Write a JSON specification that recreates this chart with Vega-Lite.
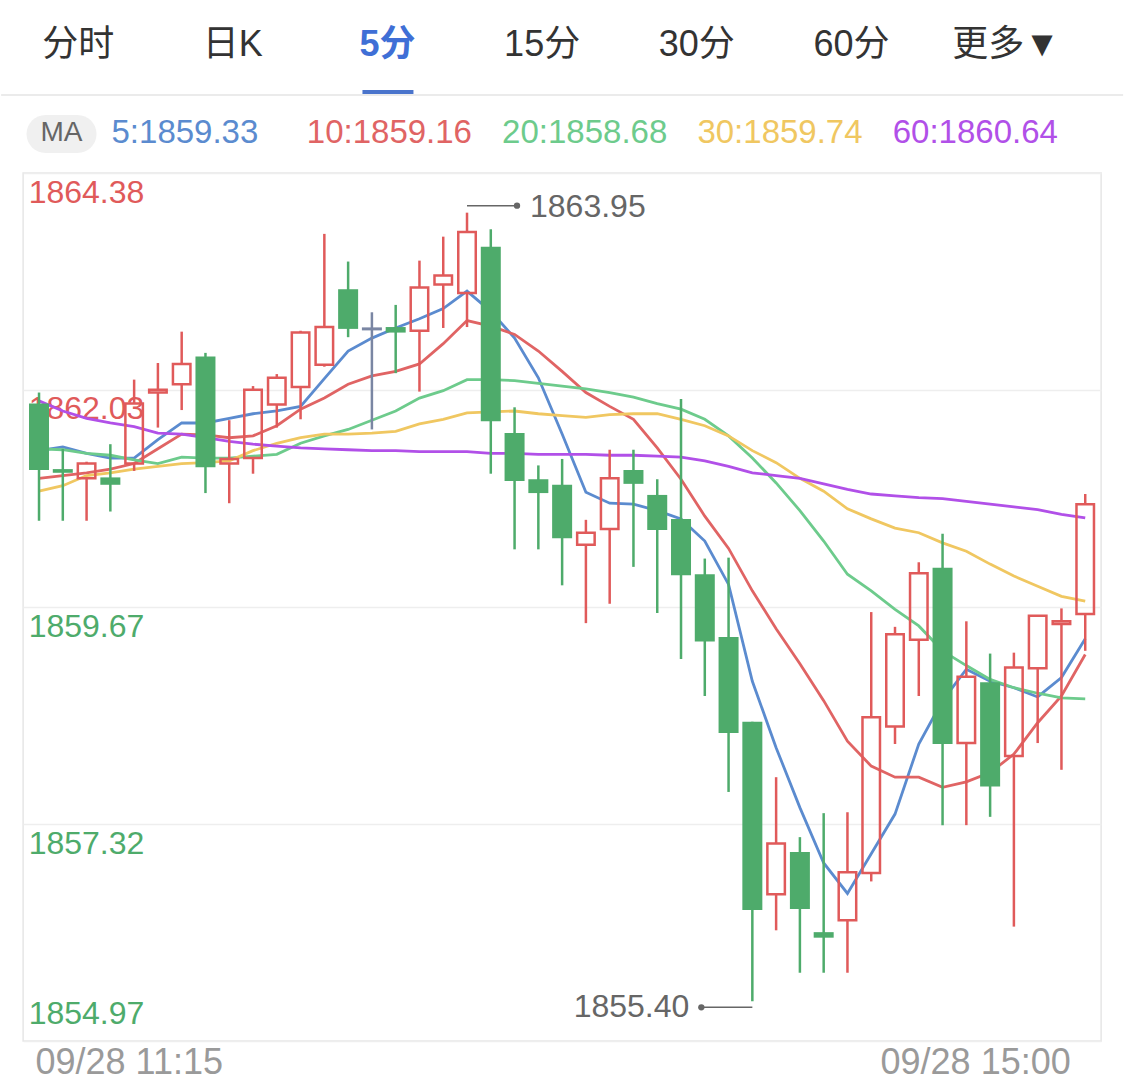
{
  "$schema": "https://vega.github.io/schema/vega-lite/v6.json",
  "background": "white",
  "padding": 0,
  "spacing": 0,
  "center": true,
  "config": {"font": "Liberation Sans", "view": {"stroke": null}},
  "datasets": {
    "k": [
      {"i":0,"open":1861.88,"high":1862.00,"low":1860.61,"close":1861.16,"ma5":1861.37,"ma10":1861.07,"ma20":1861.39,"ma30":1860.93,"ma60":1861.91},
      {"i":1,"open":1861.17,"high":1861.39,"low":1860.61,"close":1861.13,"ma5":1861.41,"ma10":1861.10,"ma20":1861.38,"ma30":1860.99,"ma60":1861.80},
      {"i":2,"open":1861.07,"high":1861.25,"low":1860.61,"close":1861.23,"ma5":1861.34,"ma10":1861.13,"ma20":1861.34,"ma30":1861.10,"ma60":1861.72},
      {"i":3,"open":1861.08,"high":1861.44,"low":1860.71,"close":1861.00,"ma5":1861.29,"ma10":1861.17,"ma20":1861.32,"ma30":1861.13,"ma60":1861.67},
      {"i":4,"open":1861.23,"high":1862.14,"low":1861.15,"close":1861.88,"ma5":1861.29,"ma10":1861.23,"ma20":1861.27,"ma30":1861.17,"ma60":1861.63},
      {"i":5,"open":1862.00,"high":1862.32,"low":1861.62,"close":1862.03,"ma5":1861.49,"ma10":1861.39,"ma20":1861.23,"ma30":1861.20,"ma60":1861.56},
      {"i":6,"open":1862.09,"high":1862.66,"low":1861.81,"close":1862.31,"ma5":1861.67,"ma10":1861.55,"ma20":1861.30,"ma30":1861.23,"ma60":1861.55},
      {"i":7,"open":1862.39,"high":1862.43,"low":1860.91,"close":1861.19,"ma5":1861.67,"ma10":1861.54,"ma20":1861.29,"ma30":1861.24,"ma60":1861.51},
      {"i":8,"open":1861.23,"high":1861.70,"low":1860.80,"close":1861.28,"ma5":1861.72,"ma10":1861.51,"ma20":1861.29,"ma30":1861.26,"ma60":1861.47},
      {"i":9,"open":1861.29,"high":1862.07,"low":1861.12,"close":1862.03,"ma5":1861.77,"ma10":1861.53,"ma20":1861.31,"ma30":1861.37,"ma60":1861.44},
      {"i":10,"open":1861.87,"high":1862.20,"low":1861.62,"close":1862.16,"ma5":1861.80,"ma10":1861.64,"ma20":1861.33,"ma30":1861.45,"ma60":1861.42},
      {"i":11,"open":1862.06,"high":1862.67,"low":1861.71,"close":1862.65,"ma5":1861.85,"ma10":1861.82,"ma20":1861.45,"ma30":1861.51,"ma60":1861.40},
      {"i":12,"open":1862.30,"high":1863.72,"low":1862.28,"close":1862.71,"ma5":1862.15,"ma10":1861.94,"ma20":1861.53,"ma30":1861.55,"ma60":1861.39},
      {"i":13,"open":1863.12,"high":1863.42,"low":1862.60,"close":1862.69,"ma5":1862.45,"ma10":1862.09,"ma20":1861.60,"ma30":1861.55,"ma60":1861.38},
      {"i":14,"open":1862.69,"high":1862.87,"low":1861.60,"close":1862.69,"ma5":1862.59,"ma10":1862.18,"ma20":1861.70,"ma30":1861.56,"ma60":1861.37},
      {"i":15,"open":1862.71,"high":1862.95,"low":1862.21,"close":1862.65,"ma5":1862.70,"ma10":1862.23,"ma20":1861.80,"ma30":1861.58,"ma60":1861.37},
      {"i":16,"open":1862.67,"high":1863.43,"low":1862.01,"close":1863.14,"ma5":1862.80,"ma10":1862.31,"ma20":1861.94,"ma30":1861.66,"ma60":1861.36},
      {"i":17,"open":1863.17,"high":1863.69,"low":1862.70,"close":1863.27,"ma5":1862.91,"ma10":1862.53,"ma20":1862.02,"ma30":1861.71,"ma60":1861.36},
      {"i":18,"open":1863.08,"high":1863.95,"low":1862.71,"close":1863.74,"ma5":1863.10,"ma10":1862.78,"ma20":1862.14,"ma30":1861.78,"ma60":1861.36},
      {"i":19,"open":1863.58,"high":1863.77,"low":1861.12,"close":1861.69,"ma5":1862.88,"ma10":1862.72,"ma20":1862.14,"ma30":1861.79,"ma60":1861.34},
      {"i":20,"open":1861.56,"high":1861.84,"low":1860.30,"close":1861.04,"ma5":1862.59,"ma10":1862.63,"ma20":1862.13,"ma30":1861.80,"ma60":1861.34},
      {"i":21,"open":1861.06,"high":1861.21,"low":1860.30,"close":1860.91,"ma5":1862.16,"ma10":1862.45,"ma20":1862.10,"ma30":1861.77,"ma60":1861.33},
      {"i":22,"open":1861.00,"high":1861.28,"low":1859.91,"close":1860.42,"ma5":1861.55,"ma10":1862.23,"ma20":1862.07,"ma30":1861.75,"ma60":1861.33},
      {"i":23,"open":1860.35,"high":1860.62,"low":1859.50,"close":1860.48,"ma5":1860.92,"ma10":1862.00,"ma20":1862.04,"ma30":1861.73,"ma60":1861.33},
      {"i":24,"open":1860.52,"high":1861.38,"low":1859.71,"close":1861.07,"ma5":1860.80,"ma10":1861.85,"ma20":1862.00,"ma30":1861.76,"ma60":1861.32},
      {"i":25,"open":1861.16,"high":1861.38,"low":1860.11,"close":1861.01,"ma5":1860.79,"ma10":1861.71,"ma20":1861.95,"ma30":1861.77,"ma60":1861.32},
      {"i":26,"open":1860.89,"high":1861.06,"low":1859.61,"close":1860.51,"ma5":1860.72,"ma10":1861.40,"ma20":1861.88,"ma30":1861.77,"ma60":1861.31},
      {"i":27,"open":1860.63,"high":1861.93,"low":1859.11,"close":1860.02,"ma5":1860.63,"ma10":1861.06,"ma20":1861.82,"ma30":1861.71,"ma60":1861.30},
      {"i":28,"open":1860.03,"high":1860.20,"low":1858.71,"close":1859.30,"ma5":1860.39,"ma10":1860.66,"ma20":1861.71,"ma30":1861.64,"ma60":1861.26},
      {"i":29,"open":1859.35,"high":1860.21,"low":1857.67,"close":1858.31,"ma5":1859.92,"ma10":1860.31,"ma20":1861.53,"ma30":1861.53,"ma60":1861.20},
      {"i":30,"open":1858.43,"high":1858.43,"low":1855.40,"close":1856.39,"ma5":1858.87,"ma10":1859.85,"ma20":1861.29,"ma30":1861.37,"ma60":1861.13},
      {"i":31,"open":1856.56,"high":1857.83,"low":1856.17,"close":1857.11,"ma5":1858.15,"ma10":1859.44,"ma20":1861.02,"ma30":1861.24,"ma60":1861.10},
      {"i":32,"open":1857.02,"high":1857.18,"low":1855.71,"close":1856.40,"ma5":1857.50,"ma10":1859.06,"ma20":1860.72,"ma30":1861.07,"ma60":1861.07},
      {"i":33,"open":1856.15,"high":1857.44,"low":1855.71,"close":1856.09,"ma5":1856.90,"ma10":1858.66,"ma20":1860.39,"ma30":1860.93,"ma60":1861.01},
      {"i":34,"open":1856.28,"high":1857.45,"low":1855.71,"close":1856.80,"ma5":1856.57,"ma10":1858.22,"ma20":1860.03,"ma30":1860.74,"ma60":1860.95},
      {"i":35,"open":1856.79,"high":1859.62,"low":1856.70,"close":1858.48,"ma5":1857.00,"ma10":1857.95,"ma20":1859.85,"ma30":1860.63,"ma60":1860.90},
      {"i":36,"open":1858.38,"high":1859.46,"low":1858.19,"close":1859.38,"ma5":1857.43,"ma10":1857.83,"ma20":1859.65,"ma30":1860.53,"ma60":1860.88},
      {"i":37,"open":1859.32,"high":1860.16,"low":1858.71,"close":1860.04,"ma5":1858.19,"ma10":1857.83,"ma20":1859.47,"ma30":1860.48,"ma60":1860.86},
      {"i":38,"open":1860.10,"high":1860.47,"low":1857.31,"close":1858.19,"ma5":1858.66,"ma10":1857.72,"ma20":1859.20,"ma30":1860.37,"ma60":1860.85},
      {"i":39,"open":1858.20,"high":1859.52,"low":1857.31,"close":1858.92,"ma5":1859.00,"ma10":1857.78,"ma20":1859.04,"ma30":1860.28,"ma60":1860.82},
      {"i":40,"open":1858.86,"high":1859.17,"low":1857.40,"close":1857.73,"ma5":1858.87,"ma10":1857.88,"ma20":1858.89,"ma30":1860.14,"ma60":1860.79},
      {"i":41,"open":1858.06,"high":1859.18,"low":1856.21,"close":1859.02,"ma5":1858.80,"ma10":1858.08,"ma20":1858.80,"ma30":1860.01,"ma60":1860.76},
      {"i":42,"open":1859.01,"high":1859.58,"low":1858.20,"close":1859.58,"ma5":1858.70,"ma10":1858.42,"ma20":1858.74,"ma30":1859.90,"ma60":1860.73},
      {"i":43,"open":1859.49,"high":1859.66,"low":1857.91,"close":1859.52,"ma5":1858.91,"ma10":1858.71,"ma20":1858.69,"ma30":1859.79,"ma60":1860.68},
      {"i":44,"open":1859.60,"high":1860.90,"low":1859.20,"close":1860.79,"ma5":1859.33,"ma10":1859.16,"ma20":1858.68,"ma30":1859.74,"ma60":1860.64}
    ],
    "ext": [
      {"i":18,"price":1863.95,"side":"right"},
      {"i":30,"price":1855.40,"side":"left"}
    ],
    "tabs": [
      {"tab":"分时"},{"tab":"日K"},{"tab":"5分"},{"tab":"15分"},{"tab":"30分"},{"tab":"60分"},{"tab":"更多▼"}
    ],
    "mas": [
      {"ma":"ma5","label":"5:1859.33"},
      {"ma":"ma10","label":"10:1859.16"},
      {"ma":"ma20","label":"20:1858.68"},
      {"ma":"ma30","label":"30:1859.74"},
      {"ma":"ma60","label":"60:1860.64"}
    ]
  },
  "vconcat": [
    {
      "width": 1122,
      "height": 96,
      "data": {"name": "tabs"},
      "layer": [
        {
          "transform": [{"filter": "datum.tab !== '5分'"}],
          "mark": {"type": "text", "fontSize": 36, "baseline": "middle", "font": "Liberation Sans, Noto Sans CJK SC", "color": "#333333"},
          "encoding": {
            "x": {"field": "tab", "type": "nominal", "scale": {"type": "point", "domain": ["分时","日K","5分","15分","30分","60分","更多▼"], "padding": 0.6272, "align": 0.3969}, "axis": null},
            "y": {"value": 45},
            "text": {"field": "tab"}
          }
        },
        {
          "transform": [{"filter": "datum.tab === '5分'"}],
          "mark": {"type": "text", "fontSize": 36, "fontWeight": "bold", "baseline": "middle", "font": "Liberation Sans, Noto Sans CJK SC", "color": "#3f6fd6"},
          "encoding": {
            "x": {"field": "tab", "type": "nominal", "axis": null},
            "y": {"value": 45},
            "text": {"field": "tab"}
          }
        },
        {
          "transform": [{"filter": "datum.tab === '5分'"}],
          "mark": {"type": "rule", "strokeWidth": 4, "color": "#4a74cc", "xOffset": -25, "x2Offset": 26},
          "encoding": {
            "x": {"field": "tab", "type": "nominal", "axis": null},
            "x2": {"field": "tab"},
            "y": {"value": 92}
          }
        },
        {
          "data": {"values": [{}]},
          "mark": {"type": "rule", "color": "#e4e4e4", "strokeWidth": 1.5},
          "encoding": {"y": {"value": 95}}
        }
      ]
    },
    {
      "width": 1122,
      "height": 76,
      "layer": [
        {
          "data": {"values": [{"key": "MA"}]},
          "mark": {"type": "point", "filled": true, "shape": "M-0.457,-0.543L0.457,-0.543A0.543,0.543,0,0,1,0.457,0.543L-0.457,0.543A0.543,0.543,0,0,1,-0.457,-0.543Z", "size": 4900, "color": "#f0f0f0", "opacity": 1},
          "encoding": {
            "x": {"field": "key", "type": "nominal", "scale": {"type": "point", "align": 0.0535}, "axis": null},
            "y": {"value": 38}
          }
        },
        {
          "data": {"values": [{"key": "MA"}]},
          "mark": {"type": "text", "fontSize": 28, "color": "#666666", "baseline": "middle", "align": "center"},
          "encoding": {
            "x": {"field": "key", "type": "nominal", "scale": {"type": "point", "align": 0.0535}, "axis": null},
            "y": {"value": 37},
            "text": {"field": "key"}
          }
        },
        {
          "data": {"name": "mas"},
          "mark": {"type": "text", "fontSize": 33, "align": "left", "baseline": "middle"},
          "encoding": {
            "x": {"field": "ma", "type": "nominal", "scale": {"type": "point", "domain": ["ma5","ma10","ma20","ma30","ma60"], "padding": 0.8725, "align": 0.3228}, "axis": null},
            "y": {"value": 37},
            "text": {"field": "label"},
            "color": {"field": "ma", "type": "nominal", "scale": {"domain": ["ma5","ma10","ma20","ma30","ma60"], "range": ["#5b8bcf","#e06464","#6dcb8c","#f0c761","#b150e8"]}, "legend": null}
          }
        }
      ],
      "resolve": {"scale": {"x": "independent"}}
    },
    {
      "width": 1078,
      "height": 868,
      "view": {"stroke": "#e6e6e6", "strokeWidth": 1.5},
      "data": {"name": "k"},
      "encoding": {
        "x": {
          "field": "i", "type": "quantitative",
          "scale": {"domain": [-0.4583, 44.4583], "nice": false, "zero": false},
          "axis": {
            "values": [0, 44], "title": null, "grid": false, "domain": false, "ticks": false, "tickSize": 0,
            "labelExpr": "datum.value < 20 ? '09/28 11:15' : '09/28 15:00'",
            "labelFontSize": 36, "labelColor": "#9a9a9a", "labelPadding": 4, "labelBaseline": "top",
            "labelFlush": false, "labelOverlap": false, "labelLimit": 400,
            "labelAlign": {"condition": {"test": "datum.value < 20", "value": "left"}, "value": "right"},
            "labelOffset": {"condition": {"test": "datum.value < 20", "value": -4}, "value": -15}
          }
        }
      },
      "layer": [
        {
          "transform": [{"fold": ["ma5","ma10","ma20","ma30","ma60"], "as": ["ma","val"]}],
          "mark": {"type": "line", "strokeWidth": 2.8},
          "encoding": {
            "y": {
              "field": "val", "type": "quantitative",
              "scale": {"domain": [1854.97, 1864.38], "nice": false, "zero": false},
              "axis": {
                "values": [1864.38, 1862.03, 1859.67, 1857.32, 1854.97], "title": null,
                "domain": false, "ticks": false, "tickSize": 0, "grid": true, "gridColor": "#eeeeee", "gridWidth": 1.5,
                "labelAlign": "left", "labelPadding": -5, "labelFontSize": 32, "format": ".2f",
                "labelFlush": false, "labelOverlap": false, "labelLimit": 400,
                "labelBaseline": {"condition": {"test": "datum.value < 1855", "value": "alphabetic"}, "value": "top"},
                "labelOffset": {"condition": {"test": "datum.value < 1855", "value": -18}, "value": 4},
                "labelColor": {"condition": {"test": "datum.value > 1861", "value": "#e05a5a"}, "value": "#4eab6b"}
              }
            },
            "color": {"field": "ma", "type": "nominal", "scale": {"domain": ["ma5","ma10","ma20","ma30","ma60"], "range": ["#5b8bcf","#e06464","#6dcb8c","#f0c761","#b150e8"]}, "legend": null}
          }
        },
        {
          "transform": [{"filter": "datum.close > datum.open"}],
          "mark": {"type": "rule", "color": "#e05a5a", "strokeWidth": 2.5},
          "encoding": {
            "y": {"field": "high", "type": "quantitative", "title": null, "scale": {"domain": [1854.97, 1864.38], "nice": false, "zero": false}},
            "y2": {"field": "close"}
          }
        },
        {
          "transform": [{"filter": "datum.close > datum.open"}],
          "mark": {"type": "rule", "color": "#e05a5a", "strokeWidth": 2.5},
          "encoding": {
            "y": {"field": "open", "type": "quantitative", "title": null, "scale": {"domain": [1854.97, 1864.38], "nice": false, "zero": false}},
            "y2": {"field": "low"}
          }
        },
        {
          "transform": [{"filter": "datum.close < datum.open"}],
          "mark": {"type": "rule", "color": "#4eab6b", "strokeWidth": 2.5},
          "encoding": {
            "y": {"field": "high", "type": "quantitative", "title": null, "scale": {"domain": [1854.97, 1864.38], "nice": false, "zero": false}},
            "y2": {"field": "low"}
          }
        },
        {
          "transform": [{"filter": "datum.close == datum.open"}],
          "mark": {"type": "rule", "color": "#7a86a3", "strokeWidth": 2.5},
          "encoding": {
            "y": {"field": "high", "type": "quantitative", "title": null, "scale": {"domain": [1854.97, 1864.38], "nice": false, "zero": false}},
            "y2": {"field": "low"}
          }
        },
        {
          "transform": [{"filter": "datum.close < datum.open"}],
          "mark": {"type": "bar", "color": "#4eab6b", "width": 20},
          "encoding": {
            "y": {"field": "open", "type": "quantitative", "title": null, "scale": {"domain": [1854.97, 1864.38], "nice": false, "zero": false}},
            "y2": {"field": "close"}
          }
        },
        {
          "transform": [{"filter": "datum.close > datum.open"}],
          "mark": {"type": "bar", "fill": "transparent", "stroke": "#e05a5a", "strokeWidth": 2.5, "width": 17.5},
          "encoding": {
            "y": {"field": "open", "type": "quantitative", "title": null, "scale": {"domain": [1854.97, 1864.38], "nice": false, "zero": false}},
            "y2": {"field": "close"}
          }
        },
        {
          "transform": [{"filter": "datum.close == datum.open"}],
          "mark": {"type": "tick", "orient": "horizontal", "color": "#7a86a3", "thickness": 3, "size": 20, "opacity": 1},
          "encoding": {
            "y": {"field": "close", "type": "quantitative", "title": null, "scale": {"domain": [1854.97, 1864.38], "nice": false, "zero": false}}
          }
        },
        {
          "data": {"name": "ext"},
          "transform": [{"filter": "datum.side === 'right'"}],
          "mark": {"type": "rule", "color": "#666666", "strokeWidth": 1.5, "x2Offset": 50, "yOffset": -7},
          "encoding": {
            "x2": {"field": "i"},
            "y": {"field": "price", "type": "quantitative", "title": null, "scale": {"domain": [1854.97, 1864.38], "nice": false, "zero": false}}
          }
        },
        {
          "data": {"name": "ext"},
          "transform": [{"filter": "datum.side === 'right'"}],
          "mark": {"type": "point", "filled": true, "size": 40, "color": "#666666", "opacity": 1, "xOffset": 50, "yOffset": -7},
          "encoding": {
            "y": {"field": "price", "type": "quantitative", "title": null, "scale": {"domain": [1854.97, 1864.38], "nice": false, "zero": false}}
          }
        },
        {
          "data": {"name": "ext"},
          "transform": [{"filter": "datum.side === 'right'"}],
          "mark": {"type": "text", "fontSize": 32, "color": "#666666", "align": "left", "baseline": "middle", "dx": 63, "dy": -6},
          "encoding": {
            "y": {"field": "price", "type": "quantitative", "title": null, "scale": {"domain": [1854.97, 1864.38], "nice": false, "zero": false}},
            "text": {"field": "price", "type": "quantitative", "format": ".2f"}
          }
        },
        {
          "data": {"name": "ext"},
          "transform": [{"filter": "datum.side === 'left'"}],
          "mark": {"type": "rule", "color": "#666666", "strokeWidth": 1.5, "x2Offset": -51, "yOffset": 6},
          "encoding": {
            "x2": {"field": "i"},
            "y": {"field": "price", "type": "quantitative", "title": null, "scale": {"domain": [1854.97, 1864.38], "nice": false, "zero": false}}
          }
        },
        {
          "data": {"name": "ext"},
          "transform": [{"filter": "datum.side === 'left'"}],
          "mark": {"type": "point", "filled": true, "size": 40, "color": "#666666", "opacity": 1, "xOffset": -51, "yOffset": 6},
          "encoding": {
            "y": {"field": "price", "type": "quantitative", "title": null, "scale": {"domain": [1854.97, 1864.38], "nice": false, "zero": false}}
          }
        },
        {
          "data": {"name": "ext"},
          "transform": [{"filter": "datum.side === 'left'"}],
          "mark": {"type": "text", "fontSize": 32, "color": "#666666", "align": "right", "baseline": "middle", "dx": -63, "dy": 6},
          "encoding": {
            "y": {"field": "price", "type": "quantitative", "title": null, "scale": {"domain": [1854.97, 1864.38], "nice": false, "zero": false}},
            "text": {"field": "price", "type": "quantitative", "format": ".2f"}
          }
        }
      ]
    }
  ]
}
